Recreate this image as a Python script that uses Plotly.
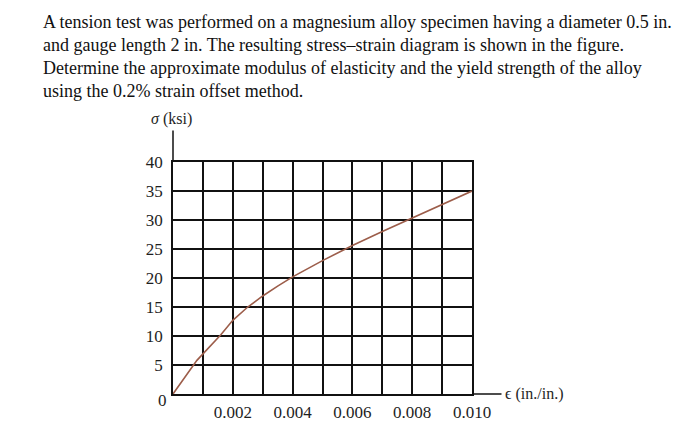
import plotly.graph_objects as go

# ---- data ----
strain = [0.0, 0.0008, 0.0016, 0.0020, 0.0025, 0.0030, 0.0035, 0.0040, 0.0050, 0.0060, 0.0070, 0.0080, 0.0090, 0.0100]
stress = [0.0, 5.8, 10.2, 12.7, 15.0, 16.9, 18.6, 20.2, 23.0, 25.6, 28.0, 30.3, 32.7, 35.0]

x_tickvals = [0.002, 0.004, 0.006, 0.008, 0.010]
x_ticktext = ["0.002", "0.004", "0.006", "0.008", "0.010"]
y_tickvals = [5, 10, 15, 20, 25, 30, 35, 40]
y_ticktext = ["5", "10", "15", "20", "25", "30", "35", "40"]

problem_lines = [
    "A tension test was performed on a magnesium alloy specimen having a diameter 0.5 in.",
    "and gauge length 2 in. The resulting stress\u2013strain diagram is shown in the figure.",
    "Determine the approximate modulus of elasticity and the yield strength of the alloy",
    "using the 0.2% strain offset method.",
]

# ---- layout geometry ----
W, H = 700, 434
L, R, T, B = 173, 228, 162, 28
PW, PH = W - L - R, H - T - B

def px(xp):
    return (xp - L) / PW

def py(yp):
    return (H - B - yp) / PH

SERIF = "Liberation Serif"
INK = "#1e1e1e"

fig = go.Figure()
fig.add_trace(go.Scatter(
    x=strain, y=stress, mode="lines",
    line=dict(color="#9c5d4a", width=1.6),
    hoverinfo="skip", showlegend=False,
))

axis_common = dict(
    showgrid=True, gridcolor="#111111", gridwidth=1.5,
    showline=True, linecolor="#111111", linewidth=1.5, mirror=True,
    zeroline=False, ticks="",
    tickfont=dict(family=SERIF, size=17, color=INK),
    fixedrange=True,
)

fig.update_xaxes(range=[0, 0.010],
                 tickmode="array", tickvals=x_tickvals, ticktext=x_ticktext,
                 ticklabelstandoff=2, **axis_common)
fig.update_yaxes(range=[0, 40], tickmode="array", tickvals=y_tickvals, ticktext=y_ticktext,
                 ticklabelstandoff=5, **axis_common)

# vertical gridlines at every 0.001 (minor grid)
fig.update_xaxes(minor=dict(dtick=0.001, tick0=0, showgrid=True, gridcolor="#111111", gridwidth=1.5))

shapes = [
    dict(type="line", xref="paper", yref="paper", x0=0, x1=0, y0=1, y1=py(129),
         line=dict(color="#111111", width=1.5)),
    dict(type="line", xref="paper", yref="paper", x0=1, x1=px(501.5), y0=0, y1=0,
         line=dict(color="#111111", width=1.5)),
]

annotations = []
baselines_center = [15, 39, 63, 87]
for txt, yc in zip(problem_lines, baselines_center):
    annotations.append(dict(
        text=txt, xref="paper", yref="paper", x=px(41), y=py(yc),
        xanchor="left", yanchor="middle", showarrow=False,
        font=dict(family=SERIF, size=18, color="#111111"),
    ))

annotations.append(dict(
    text="<i>\u03c3</i> (ksi)", xref="paper", yref="paper", x=px(171), y=py(117),
    xanchor="center", yanchor="middle", showarrow=False,
    font=dict(family=SERIF, size=16, color=INK),
))
annotations.append(dict(
    text="\u03f5 (in./in.)", xref="paper", yref="paper", x=px(503), y=py(406),
    xanchor="left", yanchor="middle", showarrow=False,
    font=dict(family=SERIF, size=16, color=INK),
))
annotations.append(dict(
    text="0", xref="paper", yref="paper", x=px(169), y=py(413),
    xanchor="right", yanchor="middle", showarrow=False,
    font=dict(family=SERIF, size=17, color=INK),
))

fig.update_layout(
    width=W, height=H,
    margin=dict(l=L, r=R, t=T, b=B),
    paper_bgcolor="white", plot_bgcolor="white",
    shapes=shapes, annotations=annotations,
    showlegend=False,
)

fig.write_html("out.html", config={"displayModeBar": False})
